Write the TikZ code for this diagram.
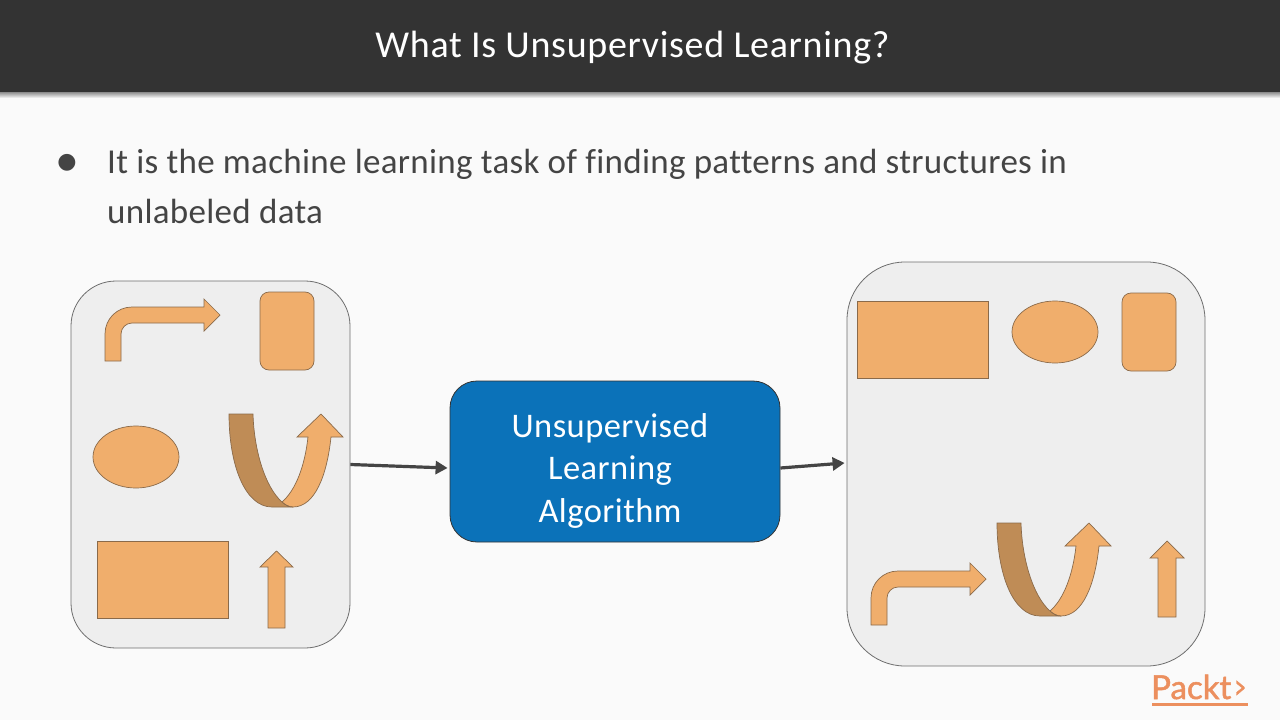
\documentclass[tikz,border=0pt]{standalone}
\usepackage{fontspec}
\setmainfont{Carlito}
\newfontfamily\bodyfont[LetterSpace=0.9,RawFeature={-liga}]{Carlito}
\newfontfamily\algofont[LetterSpace=1.3,RawFeature={-liga}]{Carlito}
\newfontfamily\titlefont[LetterSpace=1.8,RawFeature={-liga}]{Carlito}
\newfontfamily\bulletfont{DejaVu Sans}
\newfontfamily\logofont[FakeBold=1.5]{Lato}
\usetikzlibrary{shapes.geometric,arrows.meta}
\definecolor{bgc}{HTML}{FAFAFA}
\definecolor{headc}{HTML}{333333}
\definecolor{panelc}{HTML}{EEEEEE}
\definecolor{panelb}{HTML}{6E6E6E}
\definecolor{orangec}{HTML}{F0AE6C}
\definecolor{darkorange}{HTML}{BF8C56}
\definecolor{shapeb}{HTML}{8A6A4A}
\definecolor{bluec}{HTML}{0B72B9}
\definecolor{textc}{HTML}{444444}
\definecolor{logoc}{HTML}{EC8F5E}
\tikzset{
  x=1pt,y=-1pt,
  panel/.style={draw=panelb,fill=panelc,line width=0.8pt,rounded corners=#1,inner sep=0pt},
  oshape/.style={draw=shapeb,fill=orangec,line width=0.7pt,line join=miter},
  dshape/.style={draw=shapeb,fill=darkorange,line width=0.7pt},
  obox/.style={oshape,inner sep=0pt,outer sep=0pt},
  oell/.style={oshape,ellipse,inner sep=0pt,outer sep=0pt},
  flow/.style={draw=textc,line width=3.2pt,-{Triangle[length=12pt,width=13pt]}},
  bodytxt/.style={text=textc,anchor=base west,inner sep=0pt,font=\bodyfont\fontsize{35}{40}\selectfont},
  algotxt/.style={text=white,anchor=base,inner sep=0pt,font=\algofont\fontsize{34.5}{40}\selectfont},
  pics/bentarrow/.style={code={
    \path[oshape] (105,361) -- (105,334) .. controls (105,319) and (117,307) .. (132,307) -- (204,307) -- (204,299) -- (220,315) -- (204,331) -- (204,323) -- (132,323) .. controls (126,323) and (121,328) .. (121,334) -- (121,361) -- cycle;
  }},
  pics/uturn/.style={code={
    \path[oshape] (282,502) .. controls (296,490) and (305,465) .. (308,437) -- (297,437) -- (321,414) -- (343,437) -- (331,437) .. controls (327,475) and (315,507) .. (293,507) .. controls (289,507) and (285,505) .. (282,502) -- cycle;
    \path[dshape] (229,414) -- (253,414) .. controls (254,450) and (265,487) .. (282,502) .. controls (285,505) and (289,507) .. (293,507) -- (272,507) .. controls (245,507) and (229,465) .. (229,414) -- cycle;
  }}
}
\begin{document}
\begin{tikzpicture}
\useasboundingbox (0,0) rectangle (1280,720);
\fill[bgc] (0,0) rectangle (1280,720);
\shade[top color=black!45,bottom color=bgc] (0,92) rectangle (1280,98);
\fill[headc] (0,0) rectangle (1280,92);
\node[text=white,anchor=base,inner sep=0pt,font=\titlefont\fontsize{38}{44}\selectfont] (title) at (632.5,57) {What Is Unsupervised Learning?};
\node[text=textc,inner sep=0pt,font=\bulletfont\fontsize{22}{26}\selectfont] (bullet) at (67,163) {●};
\node[bodytxt] (line1) at (107,173) {It is the machine learning task of finding patterns and structures in};
\node[bodytxt] (line2) at (107,223) {unlabeled data};

\node[panel=45pt,minimum width=279pt,minimum height=367pt] (leftp) at (210.5,464.5) {};
\node[panel=58pt,minimum width=358pt,minimum height=404pt] (rightp) at (1026,464) {};
\node[draw=headc,fill=bluec,line width=0.8pt,rounded corners=27pt,minimum width=330pt,minimum height=161pt,inner sep=0pt] (algo) at (615,461.5) {};
\node[algotxt] (algo1) at (610,437) {Unsupervised};
\node[algotxt] (algo2) at (610,479) {Learning};
\node[algotxt] (algo3) at (610,522) {Algorithm};

\draw[flow] (leftp.east) -- ([yshift=-6.5pt,xshift=-2pt]algo.west);
\draw[flow] ([yshift=-6.5pt]algo.east) -- ([yshift=1pt,xshift=-2pt]rightp.west);

% left panel shapes
\pic {bentarrow};
\node[obox,rounded corners=9pt,minimum width=54pt,minimum height=78pt] (lrr) at (287,331) {};
\node[oell,minimum width=86pt,minimum height=62pt] (lell) at (136,457) {};
\pic {uturn};
\node[obox,minimum width=131.5pt,minimum height=77.5pt] (lrect) at (162.75,579.75) {};
\path[oshape] (268,628) -- (268,567) -- (260,567) -- (276.5,551) -- (293,567) -- (285,567) -- (285,628) -- cycle;

% right panel shapes
\node[obox,minimum width=131pt,minimum height=77pt] (rrect) at (922.5,339.5) {};
\node[oell,minimum width=86pt,minimum height=62pt] (rell) at (1055,332) {};
\node[obox,rounded corners=9pt,minimum width=54pt,minimum height=78pt] (rrr) at (1149,332) {};
\begin{scope}[shift={(766,264)}]\pic {bentarrow};\end{scope}
\begin{scope}[shift={(768,109)}]\pic {uturn};\end{scope}
\path[oshape] (1158,617) -- (1158,558) -- (1150,558) -- (1167,541) -- (1184,558) -- (1176,558) -- (1176,617) -- cycle;

% logo
\node[text=logoc,anchor=base west,inner sep=0pt,font=\logofont\fontsize{33}{40}\selectfont] (logo) at (1151,699) {Packt\kern3pt\scalebox{0.62}[1.0]{>}};
\fill[logoc] (1152,703) rectangle (1248,705.5);
\end{tikzpicture}
\end{document}
